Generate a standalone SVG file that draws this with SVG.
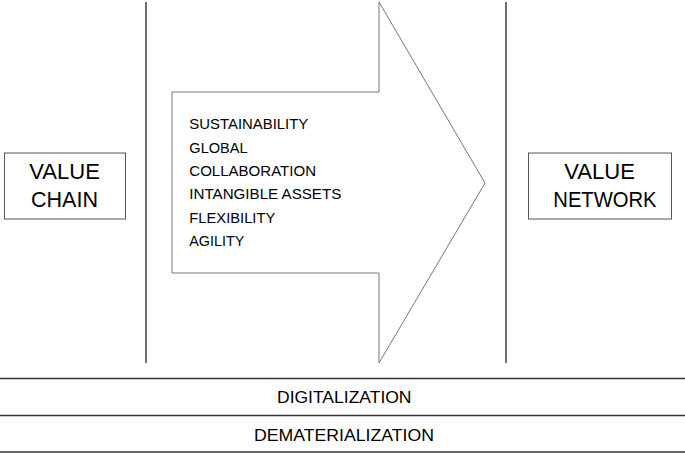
<svg xmlns="http://www.w3.org/2000/svg" width="685" height="454" viewBox="0 0 685 454">
<style>
text{font-family:"Liberation Sans",Arial,sans-serif;fill:#000}
.big{font-size:21.5px}
.list{font-size:14px}
.band{font-size:16px}
.box{fill:#fff;stroke:#555;stroke-width:1}
.vl{stroke:#222;stroke-width:1.3}
.hl{stroke:#333;stroke-width:1.3}
.arrow{fill:#fff;stroke:#777;stroke-width:1}
</style>
<rect width="685" height="454" fill="#fff"/>
<g id="connectors">
<line class="vl" x1="146" y1="2" x2="146" y2="363"/>
<line class="vl" x1="506" y1="2" x2="506" y2="363"/>
<line class="hl" x1="0" y1="378.5" x2="685" y2="378.5"/>
<line class="hl" x1="0" y1="415.5" x2="685" y2="415.5"/>
<line class="hl" x1="0" y1="452" x2="685" y2="452"/>
</g>
<g id="arrow">
<polygon class="arrow" points="172,92 379,92 379,2 485,183 379,363 379,273 172,273"/>
<text class="list" x="189.3" y="129" textLength="119" lengthAdjust="spacingAndGlyphs">SUSTAINABILITY</text>
<text class="list" x="189.3" y="152.5" textLength="58.3" lengthAdjust="spacingAndGlyphs">GLOBAL</text>
<text class="list" x="189.3" y="176" textLength="126.7" lengthAdjust="spacingAndGlyphs">COLLABORATION</text>
<text class="list" x="189.3" y="199" textLength="152" lengthAdjust="spacingAndGlyphs">INTANGIBLE ASSETS</text>
<text class="list" x="189.3" y="222.5" textLength="86" lengthAdjust="spacingAndGlyphs">FLEXIBILITY</text>
<text class="list" x="189.3" y="246" textLength="55" lengthAdjust="spacingAndGlyphs">AGILITY</text>
</g>
<g id="value-chain">
<rect class="box" x="4.5" y="153" width="121" height="66"/>
<text class="big" x="29.3" y="178.5" textLength="70.7" lengthAdjust="spacingAndGlyphs">VALUE</text>
<text class="big" x="31" y="207" textLength="67" lengthAdjust="spacingAndGlyphs">CHAIN</text>
</g>
<g id="value-network">
<rect class="box" x="528.5" y="153" width="143" height="66"/>
<text class="big" x="564.3" y="178.5" textLength="70.7" lengthAdjust="spacingAndGlyphs">VALUE</text>
<text class="big" x="553.3" y="207" textLength="103.3" lengthAdjust="spacingAndGlyphs">NETWORK</text>
</g>
<g id="digitalization">
<text class="band" x="277" y="403.3" textLength="134.5" lengthAdjust="spacingAndGlyphs">DIGITALIZATION</text>
</g>
<g id="dematerialization">
<text class="band" x="254" y="440.7" textLength="180" lengthAdjust="spacingAndGlyphs">DEMATERIALIZATION</text>
</g>
</svg>
